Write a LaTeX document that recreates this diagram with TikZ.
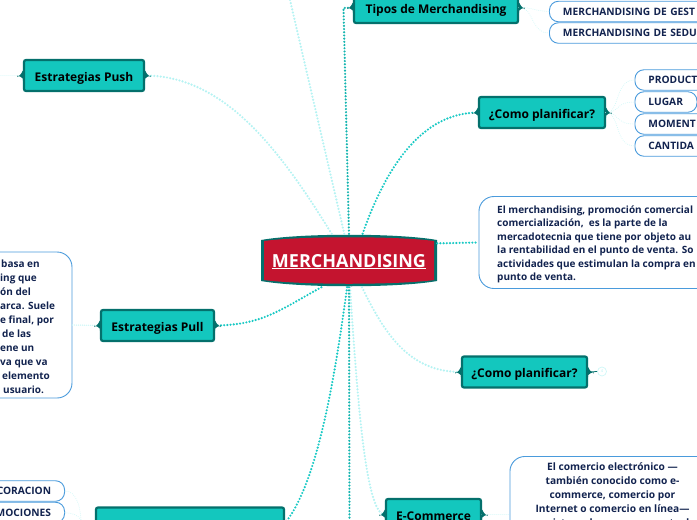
\documentclass[tikz,border=0pt]{standalone}
\usepackage{fontspec}
\setmainfont{Open Sans}
\usepackage{xcolor}
\usetikzlibrary{positioning,arrows.meta,shapes,calc}
\definecolor{tealfill}{HTML}{13C7BE}
\definecolor{tealedge}{HTML}{04706C}
\definecolor{linkdark}{HTML}{18C9C4}
\definecolor{linkpale}{HTML}{B5F3F3}
\definecolor{linkfaint}{HTML}{CFF7F7}
\definecolor{navytext}{HTML}{12234F}
\definecolor{blueedge}{HTML}{4A9BDC}
\definecolor{rootred}{HTML}{C4142F}
\tikzset{
    topic/.style={draw=tealedge, fill=tealfill, line width=2.2pt, rounded corners=2pt,
        font=\bfseries\fontsize{12}{14}\selectfont, text=black, inner sep=0pt, minimum height=31pt,
        text height=14pt, text depth=3pt},
    leaf/.style={draw=blueedge, fill=white, line width=0.9pt, rounded corners=9pt, align=left,
        font=\bfseries\fontsize{10.2}{12}\selectfont, text=navytext, inner xsep=13.5pt, inner ysep=0pt,
        minimum height=20.5pt},
    note/.style={draw=blueedge, fill=white, line width=0.9pt, rounded corners=15pt, inner sep=0pt},
    notetext/.style={font=\bfseries\fontsize{10}{13.5}\selectfont, text=navytext, inner sep=0pt},
    strong/.style={linkdark, line width=2.4pt, line cap=round, dash pattern=on 0pt off 3.2pt},
    pale/.style={linkpale, line width=2.4pt, line cap=round, dash pattern=on 0pt off 3.2pt},
    faint/.style={linkfaint, line width=1pt, line cap=round, dash pattern=on 0pt off 2pt},
}
\begin{document}
\begin{tikzpicture}[x=1pt,y=-1pt]
    \clip (0,0) rectangle (697,520);

    % Root
    \fill[tealedge] (261,240) .. controls (300,233) and (398,233) .. (437,240)
        -- (437,281) .. controls (398,288) and (300,288) .. (261,281) -- cycle;
    \fill[rootred] (264,241) .. controls (300,236) and (398,236) .. (434,241)
        -- (434,280) .. controls (398,285) and (300,285) .. (264,280) -- cycle;
    \node[font=\bfseries\fontsize{18}{20}\selectfont, text=white, minimum width=176pt, minimum height=53pt, inner sep=0pt, text height=13pt, text depth=0pt] (root) at (349,260.5) {\underline{MERCHANDISING}};

    % Left side
    \node[topic, minimum width=120pt] (push) at (84,75.5) {Estrategias Push};
    \node[topic, minimum width=113pt] (pull) at (157.5,325.5) {Estrategias Pull};
    \node[note, minimum width=160pt, minimum height=146pt] (pullnote) at (-8,325) {};
    \node[notetext, font=\bfseries\fontsize{10}{14}\selectfont, align=left, anchor=north west] (pulltext) at (0,260)
        {\hspace*{1pt}basa en\\ing que\\ón del\\arca. Suele\\e final, por\\\hspace*{2pt}de las\\ene un\\va que va\\\hspace*{2pt}elemento\\\hspace*{3pt}usuario.};

    % Lower left
    \node[topic, minimum width=188pt] (deco) at (190,523) {};
    \node[leaf, text width=100pt, align=right, anchor=east] (decoracion) at (65,491) {CORACION};
    \node[leaf, text width=100pt, align=right, anchor=east] (promociones) at (65,512.5) {MOCIONES};

    % Upper right
    \node[topic, minimum width=164pt] (tipos) at (436,7.5) {Tipos de Merchandising};
    \node[leaf, text width=180pt, anchor=west] (gest) at (549,11.5) {MERCHANDISING DE GEST};
    \node[leaf, text width=180pt, anchor=west] (sedu) at (549,33) {MERCHANDISING DE SEDU};

    \node[topic, minimum width=126pt] (plan) at (542,112.5) {¿Como planificar?};
    \node[leaf, text width=100pt, anchor=west] (producto) at (634.5,80) {PRODUCT};
    \node[leaf, text width=35pt, anchor=west] (lugar) at (634.5,102) {LUGAR};
    \node[leaf, text width=100pt, anchor=west] (momento) at (634.5,124) {MOMENT};
    \node[leaf, text width=100pt, anchor=west] (cantidad) at (634.5,146) {CANTIDA};

    % Note on the right
    \node[note, minimum width=300pt, minimum height=92pt, anchor=west] (defnote) at (478.5,242.5) {};
    \node[notetext, align=left, anchor=north west] (deftext) at (497,205.5)
        {El merchandising, promoción comercial\\comercialización,\ \ es la parte de la\\mercadotecnia que tiene por objeto au\\la rentabilidad en el punto de venta. So\\actividades que estimulan la compra en\\punto de venta.};

    % Lower right
    \node[topic, minimum width=125pt] (plantwo) at (524.5,372) {¿Como planificar?};
    \node[circle, draw=linkfaint, line width=.7pt, minimum size=9pt, inner sep=0pt, font=\fontsize{4}{4}\selectfont, text=linkpale] (fold) at (602,371.5) {4};
    \node[topic, minimum width=95pt] (ecom) at (433.5,514.5) {E-Commerce};
    \node[note, minimum width=230pt, minimum height=120pt, anchor=north west] (ecomnote) at (509.5,456) {};
    \node[notetext, font=\bfseries\fontsize{10.2}{14.1}\selectfont, align=center, anchor=north] (ecomtext) at (612.5,462)
        {El comercio electrónico —\\también conocido como e-\\commerce, comercio por\\Internet o comercio en línea—\\consiste en la compra y venta de};

    % Branches out of the root
    \coordinate (upperend) at (290,0);
    \coordinate (tiposbend) at (343.5,8);
    \coordinate (lowerend) at (349.5,520);
    \draw[pale] (root.123) .. controls (280,150) and (225,76) .. (push.east);
    \draw[pale] (root.100) -- (upperend);
    \draw[strong, linkdark!90!black] (root.90) -- (tiposbend) -- (tipos.west);
    \draw[strong] (root.63) .. controls (385,170) and (420,113) .. (plan.west);
    \draw[strong] (root.11) -- (defnote.west);
    \draw[pale] (root.-64) .. controls (385,335) and (410,372) .. (plantwo.west);
    \draw[pale] (root.-88) .. controls (357,390) and (365,515) .. (ecom.west);
    \draw[strong, linkdark!90!black] (root.-90) -- (lowerend);
    \draw[strong] (root.-94) .. controls (337,360) and (320,480) .. (deco.east);
    \draw[strong] (root.-136) .. controls (280,310) and (262,325) .. (pull.east);

    % Branches out of the topics
    \coordinate (pushend) at (0,75.5);
    \coordinate (decotop) at (81,520);
    \draw[faint] (pushend) -- (push.west);
    \draw[faint, line width=1.5pt] (pullnote.east) -- (pull.west);
    \draw[faint] (decoracion.east) .. controls (76,491) and (80,505) .. (decotop);
    \draw[faint] (promociones.east) .. controls (72,513) and (78,515) .. (decotop);
    \draw[faint] (tipos.east) .. controls (530,7) and (535,11) .. (gest.west);
    \draw[faint] (tipos.east) .. controls (535,8) and (530,33) .. (sedu.west);
    \foreach \leafname in {producto,lugar,momento,cantidad} {
        \draw[faint] (plan.east) .. controls (620,113) and ($(\leafname.west)+(-20,0)$) .. (\leafname.west);
    }
    \draw[faint] (ecom.east) -- (ecomnote.west |- ecom.east);
    \draw[tealedge, line width=.8pt] (plantwo.east) -- (fold.west);

    % Notches on the topic sides
    \foreach \topicname in {push,pull,tipos,plan,plantwo,ecom} {
        \fill[tealedge] ($(\topicname.east)+(0,-5)$) .. controls +(1,3.5) and +(2,4.5) .. ++(5.5,5)
            .. controls +(-3.5,.5) and +(-4.5,1.5) .. ++(-5.5,5) -- cycle;
        \fill[tealedge] ($(\topicname.west)+(0,-5)$) .. controls +(-1,3.5) and +(-2,4.5) .. ++(-5.5,5)
            .. controls +(3.5,.5) and +(4.5,1.5) .. ++(5.5,5) -- cycle;
    }
\end{tikzpicture}
\end{document}
